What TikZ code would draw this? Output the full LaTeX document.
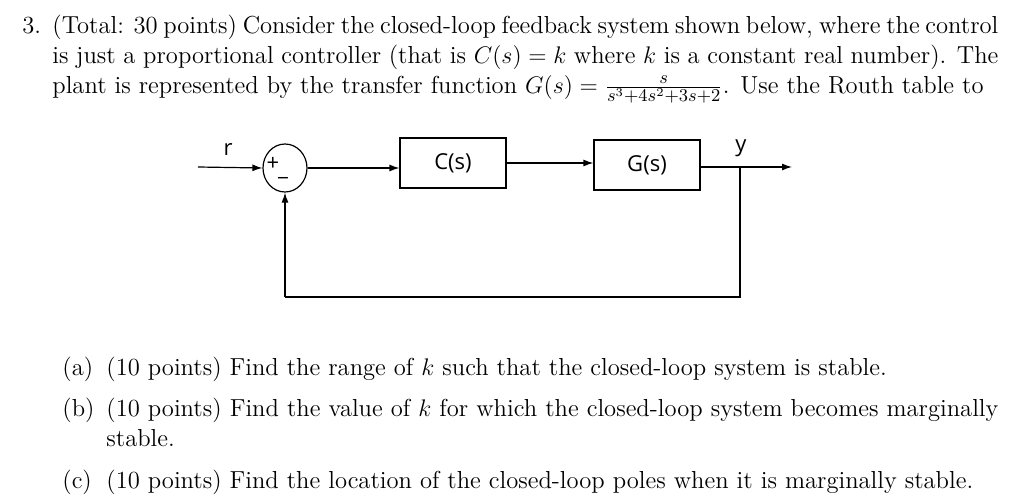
\documentclass[tikz,border=0pt]{standalone}
\usepackage{fontspec}
\newfontfamily\diag{Open Sans}
\usetikzlibrary{arrows.meta,shapes.geometric}
\begin{document}
\begin{tikzpicture}[x=0.5pt,y=-0.5pt,
  blk/.style={draw,line width=0.6pt,minimum width=53pt,minimum height=25pt,font=\diag\fontsize{11}{13}\selectfont},
  wire/.style={line width=0.6pt},
  arr/.style={wire,-{Latex[length=5pt,width=3.5pt]}},
  txt/.style={inner sep=0pt,align=justify,font=\fontsize{12.3}{15}\selectfont}]
\useasboundingbox (0,0) rectangle (1024,498);
\node[txt,anchor=base west] (num) at (22,33) {3.};
\node[txt,anchor=base west,text width=473pt] (q) at (52,33) {(Total: 30 points) Consider the closed-loop feedback system shown below, where the control\linebreak is just a proportional controller (that is $C(s)=k$ where $k$ is a constant real number). The\linebreak plant is represented by the transfer function $G(s)=\frac{s}{s^3+4s^2+3s+2}$. Use the Routh table to};
\node[draw,ellipse,line width=0.6pt,minimum width=22pt,minimum height=24pt,inner sep=0pt] (sum) at (285,168) {};
\node[font=\diag\fontsize{11}{11}\selectfont,inner sep=0pt] (plus) at (273,164) {+};
\node[font=\diag\fontsize{11}{11}\selectfont,inner sep=0pt] (minus) at (283,177) {\_};
\node[blk] (C) at (453,163) {C(s)};
\node[blk] (G) at (647,165) {G(s)};
\coordinate (in) at (198,167);
\coordinate (tap) at (740,167);
\coordinate (out) at (792,167);
\coordinate (bl) at (285,297);
\coordinate (br) at (740,297);
\node[font=\diag\fontsize{11}{13}\selectfont] (r) at (228,150) {r};
\node[font=\diag\fontsize{11}{13}\selectfont] (y) at (741,148) {y};
\draw[arr] (in) -- (sum.west);
\draw[arr] (sum.east) -- (sum.east -| C.west);
\draw[arr] (C.east |- 0,163) -- (G.west |- 0,163);
\draw[wire] (G.east |- tap) -- (tap);
\draw[arr] (tap) -- (out);
\draw[wire] (tap) -- (br) -- (bl);
\draw[arr] (bl) -- (sum.south);
\node[txt,anchor=base west] (la) at (62,375) {(a)};
\node[txt,anchor=base west] (ta) at (106,375) {(10 points) Find the range of $k$ such that the closed-loop system is stable.};
\node[txt,anchor=base west] (lb) at (62,416) {(b)};
\node[txt,anchor=base west,text width=446pt,align=justify] (tb) at (106,416) {\baselineskip=14pt (10 points) Find the value of $k$ for which the closed-loop system becomes marginally\linebreak stable.};
\node[txt,anchor=base west] (lc) at (62,488) {(c)};
\node[txt,anchor=base west] (tc) at (106,488) {(10 points) Find the location of the closed-loop poles when it is marginally stable.};
\end{tikzpicture}
\end{document}
